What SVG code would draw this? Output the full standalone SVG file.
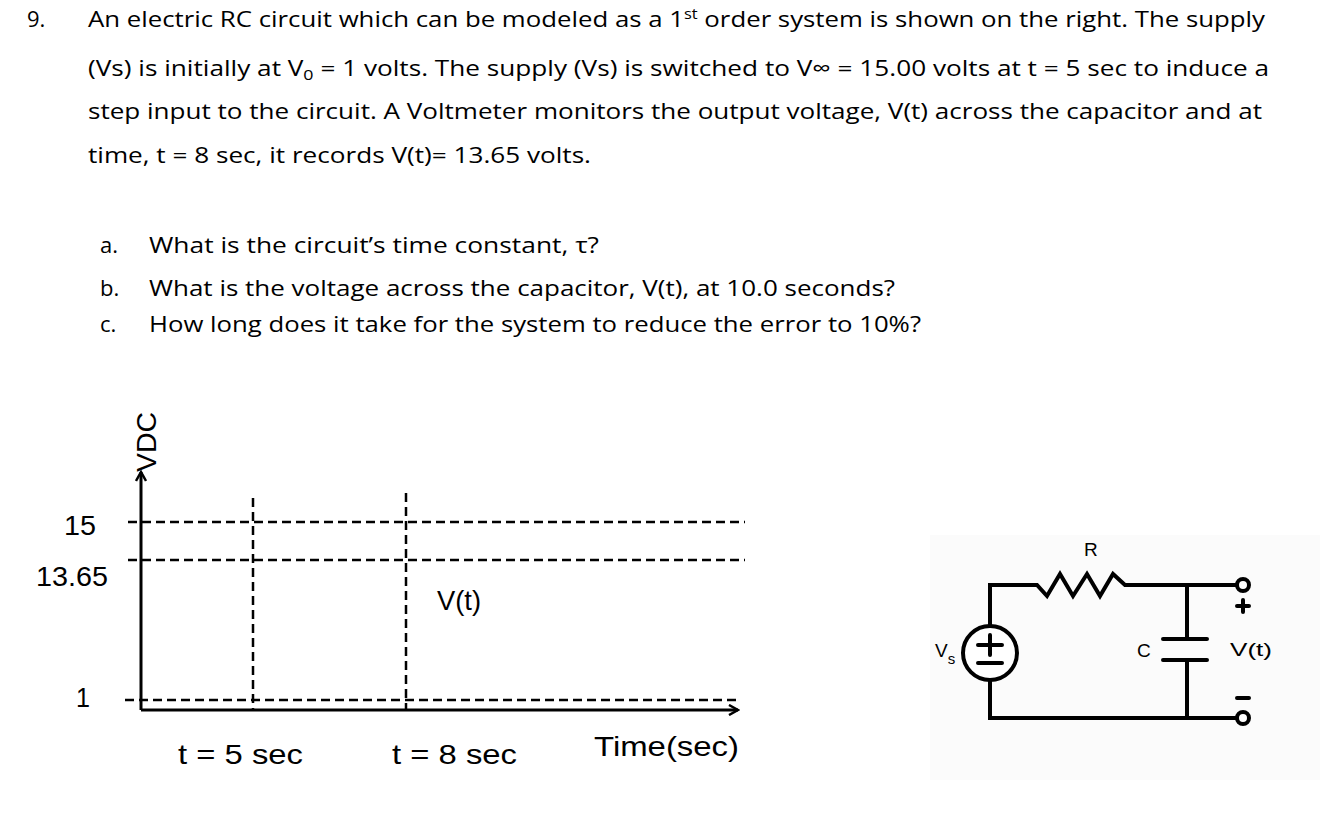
<svg xmlns="http://www.w3.org/2000/svg" width="1335" height="822" viewBox="0 0 1335 822">
<style>
.t{font-family:"Open Sans","Liberation Sans",sans-serif;font-size:22px;fill:#000}
.g{font-family:"Liberation Sans",sans-serif;font-size:28px;fill:#000}
.c{font-family:"Liberation Sans",sans-serif;font-size:19px;fill:#000}
.d{stroke:#000;stroke-width:2.5;stroke-dasharray:9,5;fill:none}
.w{stroke:#000;stroke-width:4;fill:none;stroke-linecap:round}
</style>
<defs><marker id="ah" markerWidth="12" markerHeight="12" refX="10" refY="6" orient="auto" markerUnits="userSpaceOnUse"><path d="M1,1 L10,6 L1,11" fill="none" stroke="#000" stroke-width="2.5"/></marker></defs>
<rect width="1335" height="822" fill="#fff"/>
<g id="question">
<text class="t" x="27" y="27">9.</text>
<text class="t" x="88" y="27" textLength="1177" lengthAdjust="spacingAndGlyphs">An electric RC circuit which can be modeled as a 1<tspan font-size="14" dy="-8">st</tspan><tspan dy="8"> order system is shown on the right.  The supply</tspan></text>
<text class="t" x="88" y="76" textLength="1181" lengthAdjust="spacingAndGlyphs">(Vs) is initially at V<tspan font-size="15" dy="4">0</tspan><tspan dy="-4"> = 1 volts.  The supply (Vs) is switched to V∞ = 15.00 volts at t = 5 sec to induce a</tspan></text>
<text class="t" x="88" y="119" textLength="1174" lengthAdjust="spacingAndGlyphs">step input to the circuit.  A Voltmeter monitors the output voltage, V(t) across the capacitor and at</text>
<text class="t" x="88" y="163" textLength="503" lengthAdjust="spacingAndGlyphs">time, t = 8 sec, it records V(t)= 13.65 volts.</text>
<text class="t" x="100" y="253">a.</text>
<text class="t" x="149" y="253" textLength="450" lengthAdjust="spacingAndGlyphs">What is the circuit’s time constant, τ?</text>
<text class="t" x="100" y="296">b.</text>
<text class="t" x="149" y="296" textLength="746" lengthAdjust="spacingAndGlyphs">What is the voltage across the capacitor, V(t), at 10.0 seconds?</text>
<text class="t" x="100" y="332">c.</text>
<text class="t" x="149" y="332" textLength="772" lengthAdjust="spacingAndGlyphs">How long does it take for the system to reduce the error to 10%?</text>
</g>
<g id="graph">
<line class="d" x1="128" y1="522" x2="745" y2="522"/>
<line class="d" x1="128" y1="560" x2="745" y2="560"/>
<line class="d" x1="125" y1="700" x2="738" y2="700"/>
<line class="d" x1="253" y1="498" x2="253" y2="710"/>
<line class="d" x1="406" y1="493" x2="406" y2="710"/>
<line x1="141" y1="710" x2="141" y2="472" stroke="#000" stroke-width="3" marker-end="url(#ah)"/>
<line x1="141" y1="710" x2="738" y2="710" stroke="#000" stroke-width="3" marker-end="url(#ah)"/>
<text class="g" x="156" y="472" transform="rotate(-90 156 472)" textLength="60" lengthAdjust="spacingAndGlyphs">VDC</text>
<text class="g" x="64" y="535" textLength="32" lengthAdjust="spacingAndGlyphs">15</text>
<text class="g" x="36" y="586" textLength="72" lengthAdjust="spacingAndGlyphs">13.65</text>
<text class="g" x="76" y="707" textLength="14" lengthAdjust="spacingAndGlyphs">1</text>
<text class="g" x="437" y="610" font-size="24" textLength="44" lengthAdjust="spacingAndGlyphs">V(t)</text>
<text class="g" x="178" y="764" textLength="125" lengthAdjust="spacingAndGlyphs">t = 5 sec</text>
<text class="g" x="392" y="764" textLength="125" lengthAdjust="spacingAndGlyphs">t = 8 sec</text>
<text class="g" x="594" y="756" font-size="30" textLength="145" lengthAdjust="spacingAndGlyphs">Time(sec)</text>
</g>
<g id="circuit">
<rect x="930" y="535" width="390" height="245" fill="#fbfbfb"/>
<path class="w" d="M990,626 V585 H1037 L1047,596 L1060,574 L1073,596 L1087,574 L1100,596 L1113,574 L1125,585 H1237"/>
<path class="w" d="M990,680 V718 H1237"/>
<circle cx="990" cy="653" r="27" fill="#fff" stroke="#000" stroke-width="4"/>
<path class="w" d="M978,645 H1002 M990,635 V655 M978,663 H1002"/>
<path class="w" d="M1187,585 V639 M1163,639 H1207 M1163,660 H1207 M1187,660 V718"/>
<circle cx="1243" cy="585" r="6" fill="#fff" stroke="#000" stroke-width="4"/>
<circle cx="1243" cy="718" r="6" fill="#fff" stroke="#000" stroke-width="4"/>
<path class="w" d="M1237,606 H1249 M1243,600 V612 M1237,698 H1249"/>
<text class="c" x="1084" y="556">R</text>
<text class="c" x="1137" y="657">C</text>
<text class="c" x="1230" y="656" font-size="20" textLength="42" lengthAdjust="spacingAndGlyphs">V(t)</text>
<text class="c" x="935" y="657">V<tspan font-size="15" dy="7">s</tspan></text>
</g>
</svg>
